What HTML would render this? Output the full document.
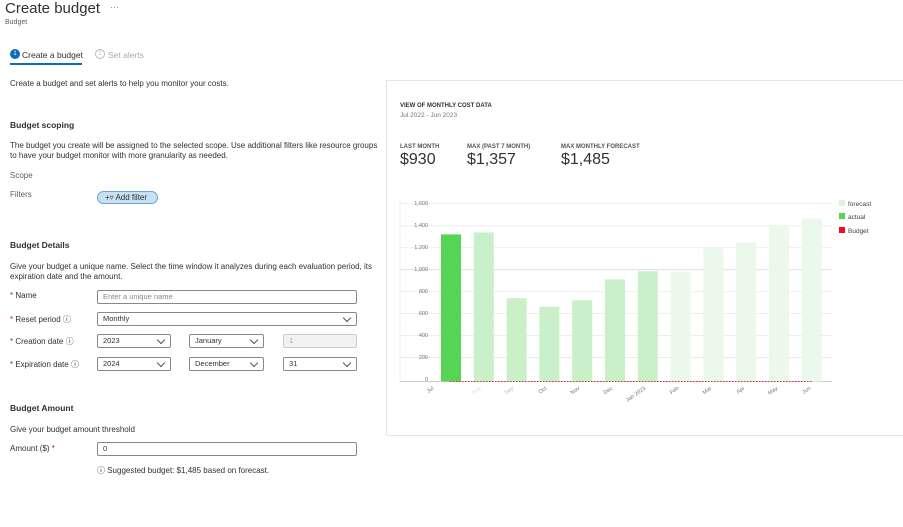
<!DOCTYPE html>
<html><head><meta charset="utf-8"><style>
*{margin:0;padding:0;box-sizing:border-box}
body{width:903px;height:527px;background:#fff;font-family:"Liberation Sans",sans-serif;color:#323130;position:relative;overflow:hidden}
.a{position:absolute;white-space:nowrap}
.s{font-size:8px}
.b{font-weight:bold}
.inp{position:absolute;border:1px solid #8a8886;border-radius:2px;height:14px;font-size:7.5px;padding-left:5px;line-height:12px;background:#fff}
.chev{position:absolute;right:6px;top:2px;width:6px;height:6px;border-right:1px solid #555;border-bottom:1px solid #555;transform:rotate(45deg)}
.req{color:#a4262c}
</style></head><body>
<div class="a" style="left:5px;top:0;font-size:15px;line-height:18px">Create budget</div>
<div class="a" style="left:110px;top:2px;font-size:9px;color:#888">···</div>
<div class="a" style="left:5px;top:19px;font-size:7px;color:#605e5c">Budget</div>
<div class="a" style="left:10px;top:49px;width:10px;height:10px;border-radius:50%;background:#0f6cbd;color:#fff;font-size:6px;text-align:center;line-height:10px">1</div>
<div class="a" style="left:22px;top:50px;font-size:8.5px">Create a budget</div>
<div class="a" style="left:10px;top:63px;width:72px;height:2px;background:#0f6cbd"></div>
<div class="a" style="left:95px;top:49px;width:10px;height:10px;border-radius:50%;border:1px solid #bbb;color:#bbb;font-size:6px;text-align:center;line-height:8px">2</div>
<div class="a" style="left:108px;top:50px;font-size:8.5px;color:#aaa">Set alerts</div>
<div class="a s" style="left:10px;top:79px">Create a budget and set alerts to help you monitor your costs.</div>
<div class="a b" style="left:10px;top:120px;font-size:8.5px">Budget scoping</div>
<div class="a s" style="left:10px;top:141px;line-height:10px">The budget you create will be assigned to the selected scope. Use additional filters like resource groups<br>to have your budget monitor with more granularity as needed.</div>
<div class="a s" style="left:10px;top:171px;color:#605e5c">Scope</div>
<div class="a s" style="left:10px;top:190px;color:#605e5c">Filters</div>
<div class="a" style="left:97px;top:191px;width:61px;height:13px;border-radius:7px;background:#c7e0f4;border:1px solid #6ca0d8;font-size:8px;line-height:11px;padding-left:7px">+▿ Add filter</div>
<div class="a b" style="left:10px;top:240px;font-size:8.5px">Budget Details</div>
<div class="a s" style="left:10px;top:262px;line-height:10px">Give your budget a unique name. Select the time window it analyzes during each evaluation period, its<br>expiration date and the amount.</div>
<div class="a s" style="left:10px;top:291px"><span class="req">*</span> Name</div>
<div class="inp" style="left:97px;top:290px;width:260px;color:#888">Enter a unique name</div>
<div class="a s" style="left:10px;top:314px"><span class="req">*</span> Reset period ⓘ</div>
<div class="inp" style="left:97px;top:312px;width:260px">Monthly<span class="chev"></span></div>
<div class="a s" style="left:10px;top:336px"><span class="req">*</span> Creation date ⓘ</div>
<div class="inp" style="left:97px;top:334px;width:74px">2023<span class="chev"></span></div>
<div class="inp" style="left:189px;top:334px;width:75px">January<span class="chev"></span></div>
<div class="inp" style="left:283px;top:334px;width:74px;background:#f3f2f1;border-color:#ccc;color:#aaa">1</div>
<div class="a s" style="left:10px;top:359px"><span class="req">*</span> Expiration date ⓘ</div>
<div class="inp" style="left:97px;top:357px;width:74px">2024<span class="chev"></span></div>
<div class="inp" style="left:189px;top:357px;width:75px">December<span class="chev"></span></div>
<div class="inp" style="left:283px;top:357px;width:74px">31<span class="chev"></span></div>
<div class="a b" style="left:10px;top:403px;font-size:8.5px">Budget Amount</div>
<div class="a s" style="left:10px;top:425px">Give your budget amount threshold</div>
<div class="a s" style="left:10px;top:444px">Amount ($) <span class="req">*</span></div>
<div class="inp" style="left:97px;top:442px;width:260px">0</div>
<div class="a s" style="left:97px;top:465px">ⓘ Suggested budget: $1,485 based on forecast.</div>

<div class="a" style="left:386px;top:80px;width:530px;height:356px;border:1px solid #e6e6e6"></div>
<div class="a b" style="left:400px;top:103px;font-size:6px">VIEW OF MONTHLY COST DATA</div>
<div class="a" style="left:400px;top:112px;font-size:6.5px;color:#777">Jul 2022 - Jun 2023</div>
<div class="a b" style="left:400px;top:144px;font-size:6px;color:#555">LAST MONTH</div>
<div class="a" style="left:400px;top:151px;font-size:16px">$930</div>
<div class="a b" style="left:467px;top:144px;font-size:6px;color:#555">MAX (PAST 7 MONTH)</div>
<div class="a" style="left:467px;top:151px;font-size:16px">$1,357</div>
<div class="a b" style="left:561px;top:144px;font-size:6px;color:#555">MAX MONTHLY FORECAST</div>
<div class="a" style="left:561px;top:151px;font-size:16px">$1,485</div>

<svg class="a" style="left:0;top:0" width="903" height="527" font-family="Liberation Sans, sans-serif">
<g stroke="#e4e4e4" stroke-width="0.7">
<line x1="400" x2="832" y1="203.8" y2="203.8"/><line x1="400" x2="832" y1="225.8" y2="225.8"/><line x1="400" x2="832" y1="247.8" y2="247.8"/><line x1="400" x2="832" y1="269.8" y2="269.8" stroke="#ccc"/><line x1="400" x2="832" y1="291.8" y2="291.8"/><line x1="400" x2="832" y1="313.7" y2="313.7"/><line x1="400" x2="832" y1="335.7" y2="335.7"/><line x1="400" x2="832" y1="357.6" y2="357.6"/>
<line x1="400" y1="198" x2="400" y2="381.5"/>
</g>
<line x1="400" x2="832" y1="381.5" y2="381.5" stroke="#bbb" stroke-width="0.8"/>
<g font-size="5.5" fill="#777" text-anchor="end">
<text x="428" y="205">1,600</text><text x="428" y="227">1,400</text><text x="428" y="249">1,200</text><text x="428" y="271">1,000</text><text x="428" y="293">800</text><text x="428" y="315">600</text><text x="428" y="337">400</text><text x="428" y="359">200</text><text x="428" y="381">0</text>
</g>
<rect x="441" y="234.4" width="20" height="147.1" fill="#55d455"/>
<rect x="473.8" y="232.5" width="20" height="149" fill="#c9f0c9"/>
<rect x="506.6" y="298.1" width="20" height="83.4" fill="#c9f0c9"/>
<rect x="539.4" y="306.8" width="20" height="74.7" fill="#c9f0c9"/>
<rect x="572.2" y="300.3" width="20" height="81.2" fill="#c9f0c9"/>
<rect x="605" y="279.4" width="20" height="102.1" fill="#c9f0c9"/>
<rect x="637.8" y="271.2" width="20" height="110.3" fill="#c9f0c9"/>
<rect x="670.6" y="271.7" width="20" height="109.8" fill="#ebf9eb"/>
<rect x="703.4" y="248.1" width="20" height="133.4" fill="#ebf9eb"/>
<rect x="736.2" y="242.6" width="20" height="138.9" fill="#ebf9eb"/>
<rect x="769" y="225" width="20" height="156.5" fill="#ebf9eb"/>
<rect x="801.8" y="218.5" width="20" height="163" fill="#ebf9eb"/>
<line x1="450" x2="812" y1="381.5" y2="381.5" stroke="#d13438" stroke-width="0.9" stroke-dasharray="1.5,1.5"/>
<g font-size="5.5" fill="#777" text-anchor="end">
<text transform="translate(434,389) rotate(-35)">Jul</text>
<text transform="translate(481,389) rotate(-35)" fill="#ddd">Aug</text>
<text transform="translate(514,389) rotate(-35)" fill="#bbb">Sep</text>
<text transform="translate(547,389) rotate(-35)">Oct</text>
<text transform="translate(580,389) rotate(-35)">Nov</text>
<text transform="translate(613,389) rotate(-35)">Dec</text>
<text transform="translate(646,389) rotate(-35)">Jan 2023</text>
<text transform="translate(679,389) rotate(-35)">Feb</text>
<text transform="translate(712,389) rotate(-35)">Mar</text>
<text transform="translate(745,389) rotate(-35)">Apr</text>
<text transform="translate(778,389) rotate(-35)">May</text>
<text transform="translate(811,389) rotate(-35)">Jun</text>
</g>
<rect x="839" y="200" width="6" height="6" fill="#d8f3d8"/><text x="848" y="206" font-size="6.5" fill="#444">forecast</text>
<rect x="839" y="213" width="6" height="6" fill="#55d455"/><text x="848" y="219" font-size="6.5" fill="#444">actual</text>
<rect x="839" y="227" width="6" height="6" fill="#e81123"/><text x="848" y="233" font-size="6.5" fill="#444">Budget</text>
</svg>
</body></html>
